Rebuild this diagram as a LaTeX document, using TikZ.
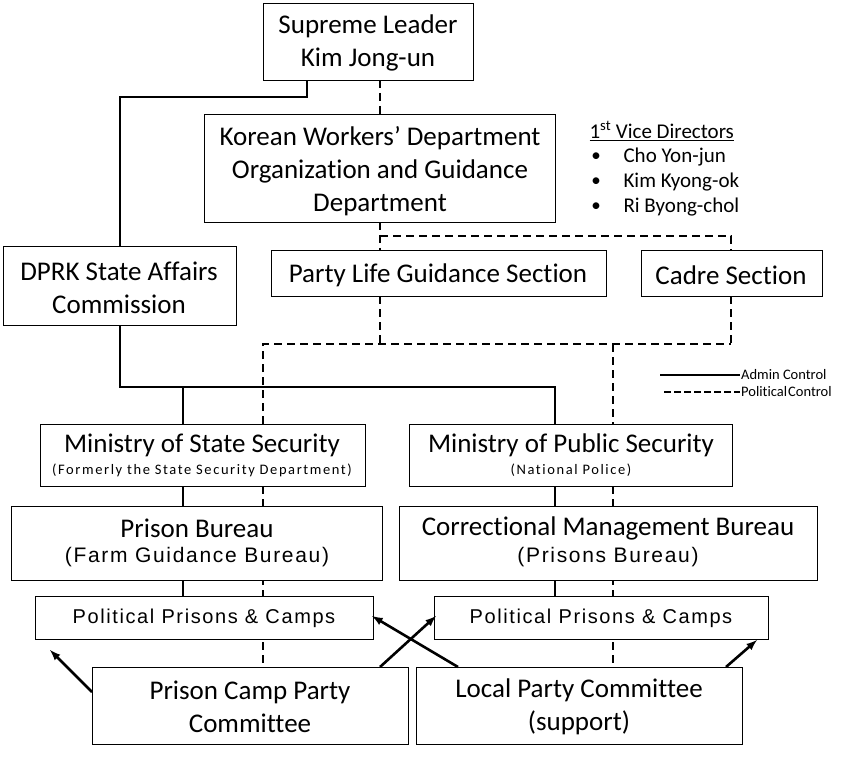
\documentclass[tikz,border=0pt]{standalone}
\usepackage{fontspec}
\setmainfont[Ligatures=NoCommon]{Carlito}
\newfontfamily\arial[LetterSpace=8]{Liberation Sans}
\newfontfamily\spaced[LetterSpace=11,Ligatures=NoCommon]{Carlito}
\begin{document}
\begin{tikzpicture}[x=1pt,y=-1pt,
 bx/.style={draw,line width=1.3pt,fill=white},
 adm/.style={line width=2.6pt},
 pol/.style={line width=2.6pt,dash pattern=on 8pt off 5pt},
 arr/.style={line width=2.6pt,-latex}]
\useasboundingbox (0,0) rectangle (847,757);
\tikzset{T/.style={font=\fontsize{27}{33}\selectfont,align=center}}
% connectors first
\draw[adm] (307,80) -- (307,97) -- (120,97) -- (120,246);
\draw[adm] (120,325) -- (120,387) -- (555,387) -- (555,424);
\draw[adm] (183,387) -- (183,424);
\draw[pol] (380,80) -- (380,114);
\draw[pol] (380,222) -- (380,250);
\draw[pol] (380,236) -- (731,236) -- (731,250);
\draw[pol] (380,296) -- (380,344);
\draw[pol] (731,296) -- (731,344);
\draw[pol] (263,424) -- (263,344) -- (731,344);
\draw[pol] (613,344) -- (613,424);
\draw[adm] (183,486) -- (183,596);
\draw[adm] (555,486) -- (555,596);
\draw[pol] (263,486) -- (263,667);
\draw[pol] (613,486) -- (613,667);
% boxes
\node[bx,minimum width=210,minimum height=77,anchor=north west] (sl) at (263,3) {};
\node[T] at (368,43) {Supreme Leader\\Kim Jong-un};
\node[bx,minimum width=351,minimum height=108,anchor=north west] (kwd) at (204,114) {};
\node[T] at (380,171) {Korean Workers' Department\\Organization and Guidance\\Department};
\node[bx,minimum width=233,minimum height=79,anchor=north west] (dprk) at (3,246) {};
\node[T] at (119,288) {DPRK State Affairs\\Commission};
\node[bx,minimum width=335,minimum height=46,anchor=north west] (pl) at (271,250) {};
\node[T] at (438,275) {Party Life Guidance Section};
\node[bx,minimum width=181,minimum height=46,anchor=north west] (cad) at (641,250) {};
\node[T] at (731,275) {Cadre Section};
\node[bx,minimum width=325,minimum height=62,anchor=north west] (mss) at (40,424) {};
\node[T] at (202,445) {Ministry of State Security};
\node[font=\spaced\fontsize{14.5}{16}\selectfont] at (202,470) {(Formerly the State Security Department)};
\node[bx,minimum width=323,minimum height=62,anchor=north west] (mps) at (409,424) {};
\node[T] at (571,445) {Ministry of Public Security};
\node[font=\spaced\fontsize{14.5}{16}\selectfont] at (571,470) {(National Police)};
\node[bx,minimum width=371,minimum height=74,anchor=north west] (pb) at (11,506) {};
\node[T] at (197,528) {Prison Bureau};
\node[font=\arial\fontsize{21}{24}\selectfont] at (197,557) {(Farm Guidance Bureau)};
\node[bx,minimum width=418,minimum height=74,anchor=north west] (cmb) at (399,506) {};
\node[T] at (608,528) {Correctional Management Bureau};
\node[font=\arial\fontsize{21}{24}\selectfont] at (608,557) {(Prisons Bureau)};
\node[bx,minimum width=338,minimum height=43,anchor=north west] (pp1) at (35,596) {};
\node[font=\arial\fontsize{20}{22}\selectfont] at (204,618) {Political Prisons \& Camps};
\node[bx,minimum width=334,minimum height=43,anchor=north west] (pp2) at (434,596) {};
\node[font=\arial\fontsize{20}{22}\selectfont] at (601,618) {Political Prisons \& Camps};
\node[bx,minimum width=316,minimum height=77,anchor=north west] (pc) at (92,667) {};
\node[T] at (250,707) {Prison Camp Party\\Committee};
\node[bx,minimum width=326,minimum height=77,anchor=north west] (lp) at (416,667) {};
\node[T] at (579,707) {Local Party Committee\\(support)};
% arrows
\draw[arr] (92,692) -- (50,650);
\draw[arr] (380,667) -- (436,616);
\draw[arr] (458,667) -- (372,616);
\draw[arr] (726,667) -- (757,640);
% vice directors
\node[anchor=west,font=\fontsize{21}{24}\selectfont] (vd) at (586,131) {\underline{1\textsuperscript{st} Vice Directors}};
\foreach \y/\n in {157/Cho Yon-jun,182/Kim Kyong-ok,207/Ri Byong-chol}{
 \node[font=\fontsize{19}{20}\selectfont] at (596,\y) {•};
 \node[anchor=west,font=\fontsize{21}{24}\selectfont] at (620,\y) {\n};}
% legend
\coordinate (l1) at (660,375); \coordinate (l2) at (740,375);
\coordinate (l3) at (664,392); \coordinate (l4) at (740,392);
\draw[line width=2pt] (l1) -- (l2);
\draw[line width=2pt,dash pattern=on 7pt off 3pt] (l3) -- (l4);
\node[anchor=west,font=\fontsize{14.5}{15}\selectfont,inner sep=1pt] at (l2) {Admin Control};
\node[anchor=west,font=\fontsize{14.5}{15}\selectfont,inner sep=1pt] at (l4) {Political\kern1pt Control};
\end{tikzpicture}
\end{document}
